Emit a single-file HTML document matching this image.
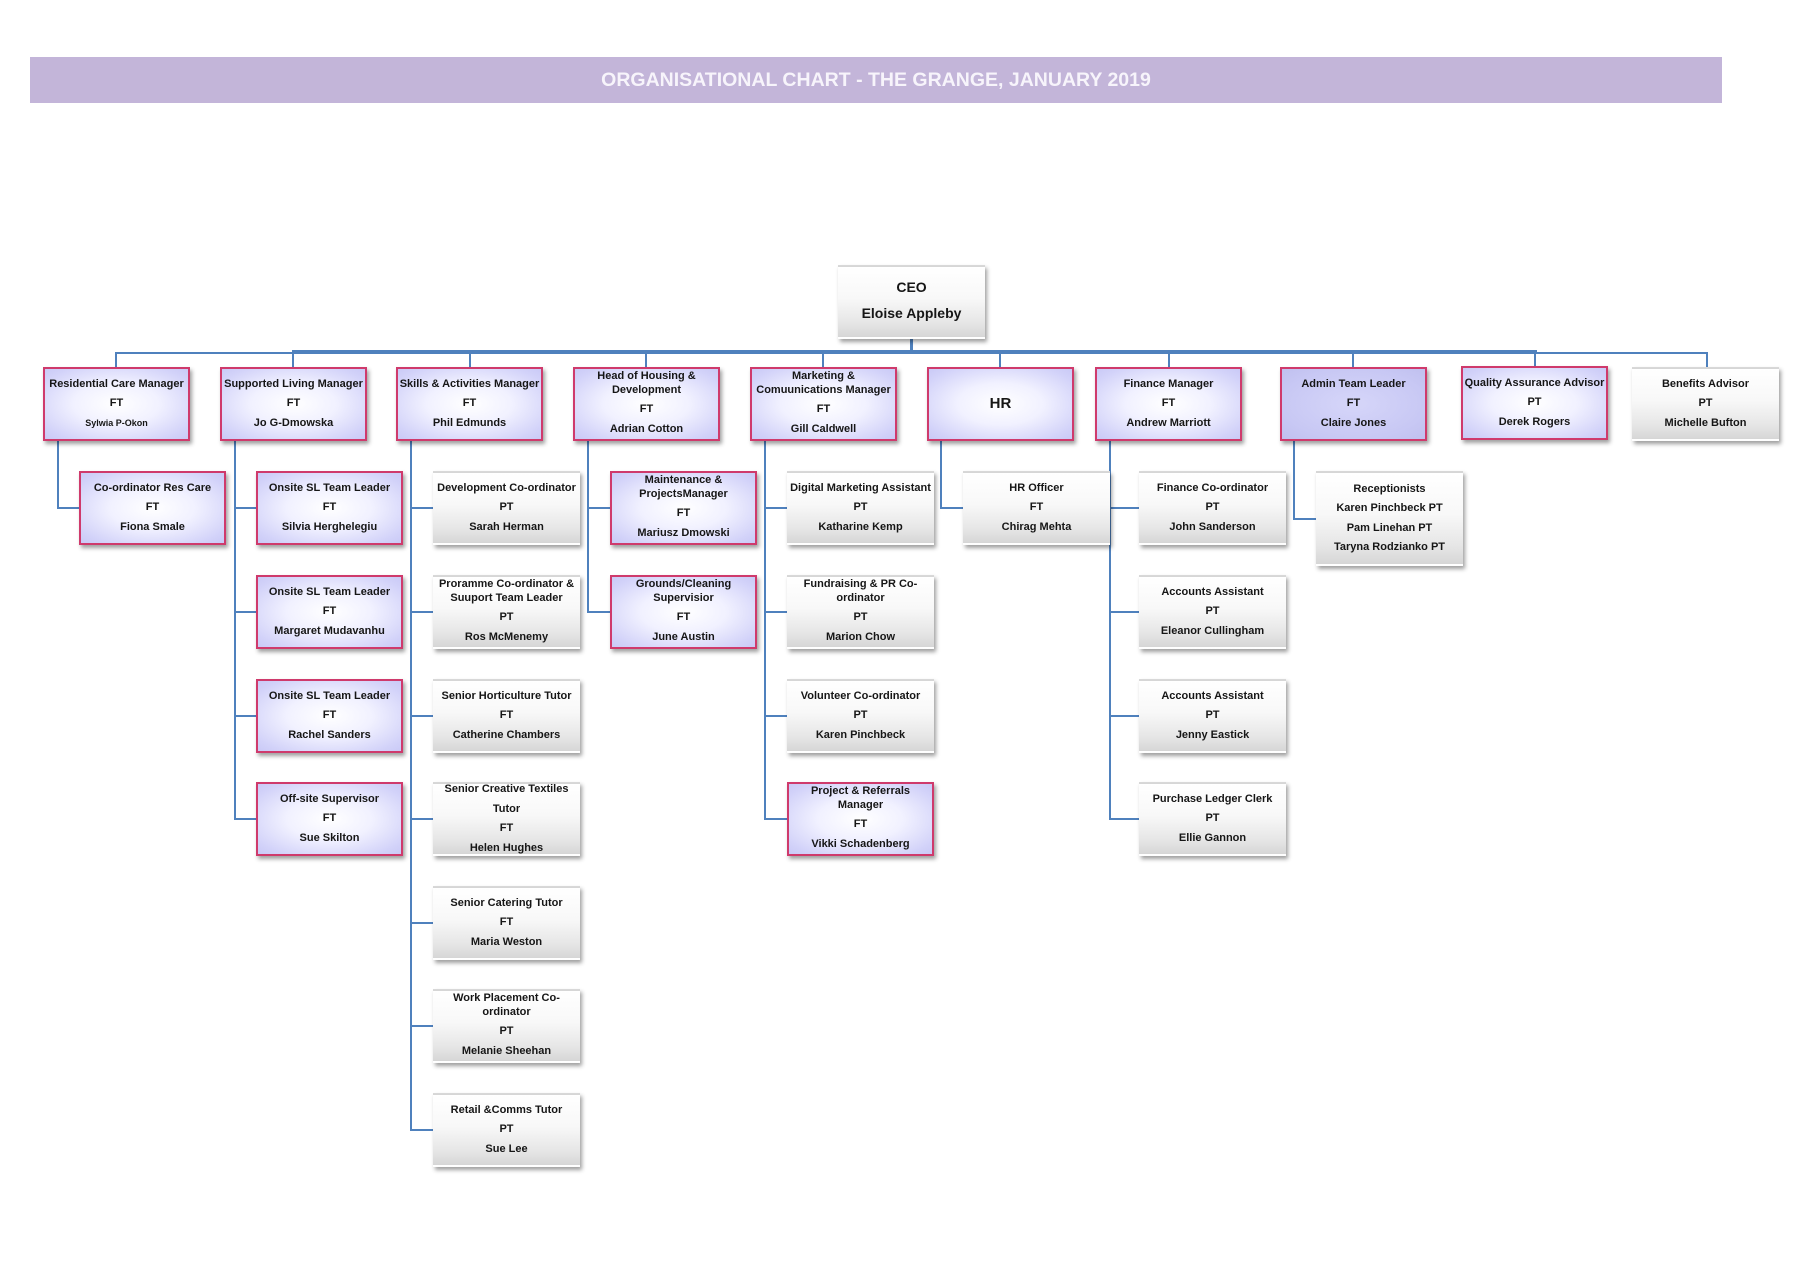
<!DOCTYPE html>
<html>
<head>
<meta charset="utf-8">
<style>
html,body{margin:0;padding:0;background:#fff;}
#c{position:relative;width:1800px;height:1273px;overflow:hidden;background:#fff;}
.t{position:absolute;left:30px;top:57px;width:1692px;height:46px;background:#c3b5d9;color:#f7f4fb;font:bold 19.5px "Liberation Sans",Arial,sans-serif;line-height:46px;text-align:center;}
.bx{position:absolute;width:147px;height:74px;box-sizing:border-box;border:2px solid transparent;display:flex;flex-direction:column;justify-content:center;align-items:center;text-align:center;font:bold 11px "Liberation Sans",Arial,sans-serif;color:#161616;box-shadow:2px 3px 4px rgba(0,0,0,.38);white-space:nowrap;}
.bx div{line-height:19.5px;}
.bx .w{line-height:14px;margin-bottom:3px;}
.p{border-color:#cf3a6c;background:radial-gradient(ellipse 75% 75% at 50% 50%,#ffffff 0%,#f1f1ff 40%,#d2d2f9 80%,#c6c6f5 100%);}
.a{border-color:#cf3a6c;background:radial-gradient(ellipse at 50% 50%,#d6d6f9 0%,#c8c8f4 70%,#c0c0ef 100%);}
.g{background:linear-gradient(to bottom,#ffffff 0%,#f8f8f8 45%,#e6e6e6 80%,#d6d6d6 100%);}
.l{position:absolute;background:#4f81bd;}
</style>
</head>
<body>
<div id="c">
<div class="t">ORGANISATIONAL CHART - THE GRANGE, JANUARY 2019</div>

<!-- connectors -->
<div class="l" style="left:910px;top:339px;width:3px;height:14px;"></div>
<div class="l" style="left:115px;top:352px;width:1593px;height:2px;"></div>
<div class="l" style="left:292px;top:350px;width:1245px;height:3px;"></div>
<div class="l" style="left:115px;top:352px;width:2px;height:15px;"></div>
<div class="l" style="left:292px;top:352px;width:2px;height:15px;"></div>
<div class="l" style="left:469px;top:352px;width:2px;height:15px;"></div>
<div class="l" style="left:645px;top:352px;width:2px;height:15px;"></div>
<div class="l" style="left:822px;top:352px;width:2px;height:15px;"></div>
<div class="l" style="left:999px;top:352px;width:2px;height:15px;"></div>
<div class="l" style="left:1168px;top:352px;width:2px;height:15px;"></div>
<div class="l" style="left:1352px;top:352px;width:2px;height:15px;"></div>
<div class="l" style="left:1534px;top:352px;width:2px;height:14px;"></div>
<div class="l" style="left:1706px;top:352px;width:2px;height:15px;"></div>

<!-- Res care -->
<div class="l" style="left:57px;top:441px;width:2px;height:68px;"></div>
<div class="l" style="left:57px;top:507px;width:22px;height:2px;"></div>
<!-- SL -->
<div class="l" style="left:234px;top:441px;width:2px;height:379px;"></div>
<div class="l" style="left:234px;top:507px;width:22px;height:2px;"></div>
<div class="l" style="left:234px;top:611px;width:22px;height:2px;"></div>
<div class="l" style="left:234px;top:715px;width:22px;height:2px;"></div>
<div class="l" style="left:234px;top:818px;width:22px;height:2px;"></div>
<!-- Skills -->
<div class="l" style="left:410px;top:441px;width:2px;height:690px;"></div>
<div class="l" style="left:410px;top:507px;width:23px;height:2px;"></div>
<div class="l" style="left:410px;top:611px;width:23px;height:2px;"></div>
<div class="l" style="left:410px;top:715px;width:23px;height:2px;"></div>
<div class="l" style="left:410px;top:818px;width:23px;height:2px;"></div>
<div class="l" style="left:410px;top:922px;width:23px;height:2px;"></div>
<div class="l" style="left:410px;top:1025px;width:23px;height:2px;"></div>
<div class="l" style="left:410px;top:1129px;width:23px;height:2px;"></div>
<!-- HoH -->
<div class="l" style="left:587px;top:441px;width:2px;height:172px;"></div>
<div class="l" style="left:587px;top:507px;width:23px;height:2px;"></div>
<div class="l" style="left:587px;top:611px;width:23px;height:2px;"></div>
<!-- Marketing -->
<div class="l" style="left:764px;top:441px;width:2px;height:379px;"></div>
<div class="l" style="left:764px;top:507px;width:23px;height:2px;"></div>
<div class="l" style="left:764px;top:611px;width:23px;height:2px;"></div>
<div class="l" style="left:764px;top:715px;width:23px;height:2px;"></div>
<div class="l" style="left:764px;top:818px;width:23px;height:2px;"></div>
<!-- HR -->
<div class="l" style="left:940px;top:441px;width:2px;height:68px;"></div>
<div class="l" style="left:940px;top:507px;width:23px;height:2px;"></div>
<!-- Finance -->
<div class="l" style="left:1109px;top:441px;width:2px;height:379px;"></div>
<div class="l" style="left:1109px;top:507px;width:30px;height:2px;"></div>
<div class="l" style="left:1109px;top:611px;width:30px;height:2px;"></div>
<div class="l" style="left:1109px;top:715px;width:30px;height:2px;"></div>
<div class="l" style="left:1109px;top:818px;width:30px;height:2px;"></div>
<!-- Admin -->
<div class="l" style="left:1293px;top:441px;width:2px;height:79px;"></div>
<div class="l" style="left:1293px;top:518px;width:23px;height:2px;"></div>

<!-- CEO -->
<div class="bx g" style="left:838px;top:265px;font-size:14px;padding-bottom:4px;"><div style="line-height:26px;">CEO</div><div style="line-height:26px;">Eloise Appleby</div></div>

<!-- top level -->
<div class="bx p" style="left:43px;top:367px;"><div>Residential Care Manager</div><div>FT</div><div style="font-size:9px;">Sylwia P-Okon</div></div>
<div class="bx p" style="left:220px;top:367px;"><div>Supported Living Manager</div><div>FT</div><div>Jo G-Dmowska</div></div>
<div class="bx p" style="left:396px;top:367px;"><div>Skills &amp; Activities Manager</div><div>FT</div><div>Phil Edmunds</div></div>
<div class="bx p" style="left:573px;top:367px;"><div class="w">Head of Housing &amp;<br>Development</div><div>FT</div><div>Adrian Cotton</div></div>
<div class="bx p" style="left:750px;top:367px;"><div class="w">Marketing &amp;<br>Comuunications Manager</div><div>FT</div><div>Gill Caldwell</div></div>
<div class="bx p" style="left:927px;top:367px;font-size:15px;"><div>HR</div></div>
<div class="bx p" style="left:1095px;top:367px;"><div>Finance Manager</div><div>FT</div><div>Andrew Marriott</div></div>
<div class="bx a" style="left:1280px;top:367px;"><div>Admin Team Leader</div><div>FT</div><div>Claire Jones</div></div>
<div class="bx p" style="left:1461px;top:366px;"><div>Quality Assurance Advisor</div><div>PT</div><div>Derek Rogers</div></div>
<div class="bx g" style="left:1632px;top:367px;"><div>Benefits Advisor</div><div>PT</div><div>Michelle Bufton</div></div>

<!-- Res care children -->
<div class="bx p" style="left:79px;top:471px;"><div>Co-ordinator Res Care</div><div>FT</div><div>Fiona Smale</div></div>

<!-- SL children -->
<div class="bx p" style="left:256px;top:471px;"><div>Onsite SL Team Leader</div><div>FT</div><div>Silvia Herghelegiu</div></div>
<div class="bx p" style="left:256px;top:575px;"><div>Onsite SL Team Leader</div><div>FT</div><div>Margaret Mudavanhu</div></div>
<div class="bx p" style="left:256px;top:679px;"><div>Onsite SL Team Leader</div><div>FT</div><div>Rachel Sanders</div></div>
<div class="bx p" style="left:256px;top:782px;"><div>Off-site Supervisor</div><div>FT</div><div>Sue Skilton</div></div>

<!-- Skills children -->
<div class="bx g" style="left:433px;top:471px;"><div>Development Co-ordinator</div><div>PT</div><div>Sarah Herman</div></div>
<div class="bx g" style="left:433px;top:575px;"><div class="w">Proramme Co-ordinator &amp;<br>Suuport Team Leader</div><div>PT</div><div>Ros McMenemy</div></div>
<div class="bx g" style="left:433px;top:679px;"><div>Senior Horticulture Tutor</div><div>FT</div><div>Catherine Chambers</div></div>
<div class="bx g" style="left:433px;top:782px;"><div>Senior Creative Textiles</div><div>Tutor</div><div>FT</div><div>Helen Hughes</div></div>
<div class="bx g" style="left:433px;top:886px;"><div>Senior Catering Tutor</div><div>FT</div><div>Maria Weston</div></div>
<div class="bx g" style="left:433px;top:989px;"><div class="w">Work Placement Co-<br>ordinator</div><div>PT</div><div>Melanie Sheehan</div></div>
<div class="bx g" style="left:433px;top:1093px;"><div>Retail &amp;Comms Tutor</div><div>PT</div><div>Sue Lee</div></div>

<!-- HoH children -->
<div class="bx p" style="left:610px;top:471px;"><div class="w">Maintenance &amp;<br>ProjectsManager</div><div>FT</div><div>Mariusz Dmowski</div></div>
<div class="bx p" style="left:610px;top:575px;"><div class="w">Grounds/Cleaning<br>Supervisior</div><div>FT</div><div>June Austin</div></div>

<!-- Marketing children -->
<div class="bx g" style="left:787px;top:471px;"><div>Digital Marketing Assistant</div><div>PT</div><div>Katharine Kemp</div></div>
<div class="bx g" style="left:787px;top:575px;"><div class="w">Fundraising &amp; PR Co-<br>ordinator</div><div>PT</div><div>Marion Chow</div></div>
<div class="bx g" style="left:787px;top:679px;"><div>Volunteer Co-ordinator</div><div>PT</div><div>Karen Pinchbeck</div></div>
<div class="bx p" style="left:787px;top:782px;"><div class="w">Project &amp; Referrals<br>Manager</div><div>FT</div><div>Vikki Schadenberg</div></div>

<!-- HR child -->
<div class="bx g" style="left:963px;top:471px;"><div>HR Officer</div><div>FT</div><div>Chirag Mehta</div></div>

<!-- Finance children -->
<div class="bx g" style="left:1139px;top:471px;"><div>Finance Co-ordinator</div><div>PT</div><div>John Sanderson</div></div>
<div class="bx g" style="left:1139px;top:575px;"><div>Accounts Assistant</div><div>PT</div><div>Eleanor Cullingham</div></div>
<div class="bx g" style="left:1139px;top:679px;"><div>Accounts Assistant</div><div>PT</div><div>Jenny Eastick</div></div>
<div class="bx g" style="left:1139px;top:782px;"><div>Purchase Ledger Clerk</div><div>PT</div><div>Ellie Gannon</div></div>

<!-- Admin child -->
<div class="bx g" style="left:1316px;top:471px;height:95px;"><div>Receptionists</div><div>Karen Pinchbeck PT</div><div>Pam Linehan PT</div><div>Taryna Rodzianko PT</div></div>

</div>
</body>
</html>
